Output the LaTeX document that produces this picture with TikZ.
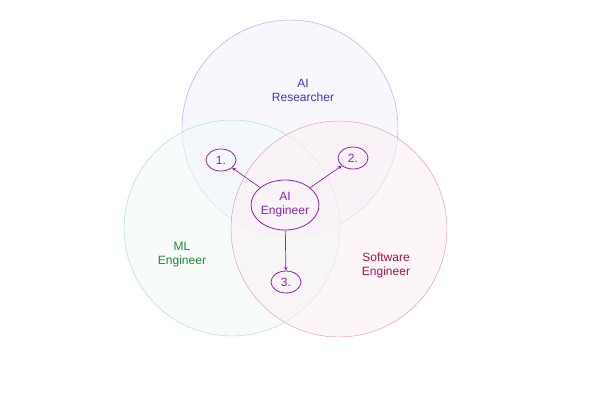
\documentclass[tikz,border=0pt]{standalone}
\usepackage{fontspec}
\setmainfont{Liberation Sans}
\usetikzlibrary{shapes.geometric}
\definecolor{res}{HTML}{4A2FD0}
\definecolor{mle}{HTML}{1E8A2E}
\definecolor{teal}{HTML}{2FB08A}
\definecolor{swe}{HTML}{B0104A}
\definecolor{aie}{HTML}{8E24AA}
\tikzset{
 setc/.style={circle,minimum size=216pt,inner sep=0pt,draw=#1!45,fill=#1!6,fill opacity=0.6,draw opacity=1},
 lab/.style={align=center,font=\fontsize{12}{14}\selectfont,text=#1,fill opacity=1,text opacity=1},
 num/.style={ellipse,draw=aie,line width=0.8pt,minimum width=30pt,minimum height=22pt,inner sep=0pt,text=aie,font=\fontsize{12}{14}\selectfont},
 arr/.style={-stealth,draw=aie,line width=0.7pt}
}
\begin{document}
\begin{tikzpicture}[x=1pt,y=-1pt]
\useasboundingbox (0,0) rectangle (600,400);
\fill[white] (0,0) rectangle (600,400);
\node[setc=res] (top) at (290,128) {};
\node[setc=teal] (left) at (232,228) {};
\node[setc=swe] (right) at (339,229) {};
\node[lab=res] (tl) at (303,90) {AI\\Researcher};
\node[lab=mle] (ll) at (182,255) {ML\\Engineer};
\node[lab=swe] (rl) at (386,265) {Software\\Engineer};
\node[num,minimum width=64pt,minimum height=50pt,align=center] (ai) at (285,205) {AI\\Engineer};
\node[num] (n1) at (221,160) {1.};
\node[num] (n2) at (353,158) {2.};
\node[num] (n3) at (286,282) {3.};
\draw[arr] (ai) -- (n1);
\draw[arr] (ai) -- (n2);
\draw[arr] (ai) -- (n3);
\end{tikzpicture}
\end{document}
